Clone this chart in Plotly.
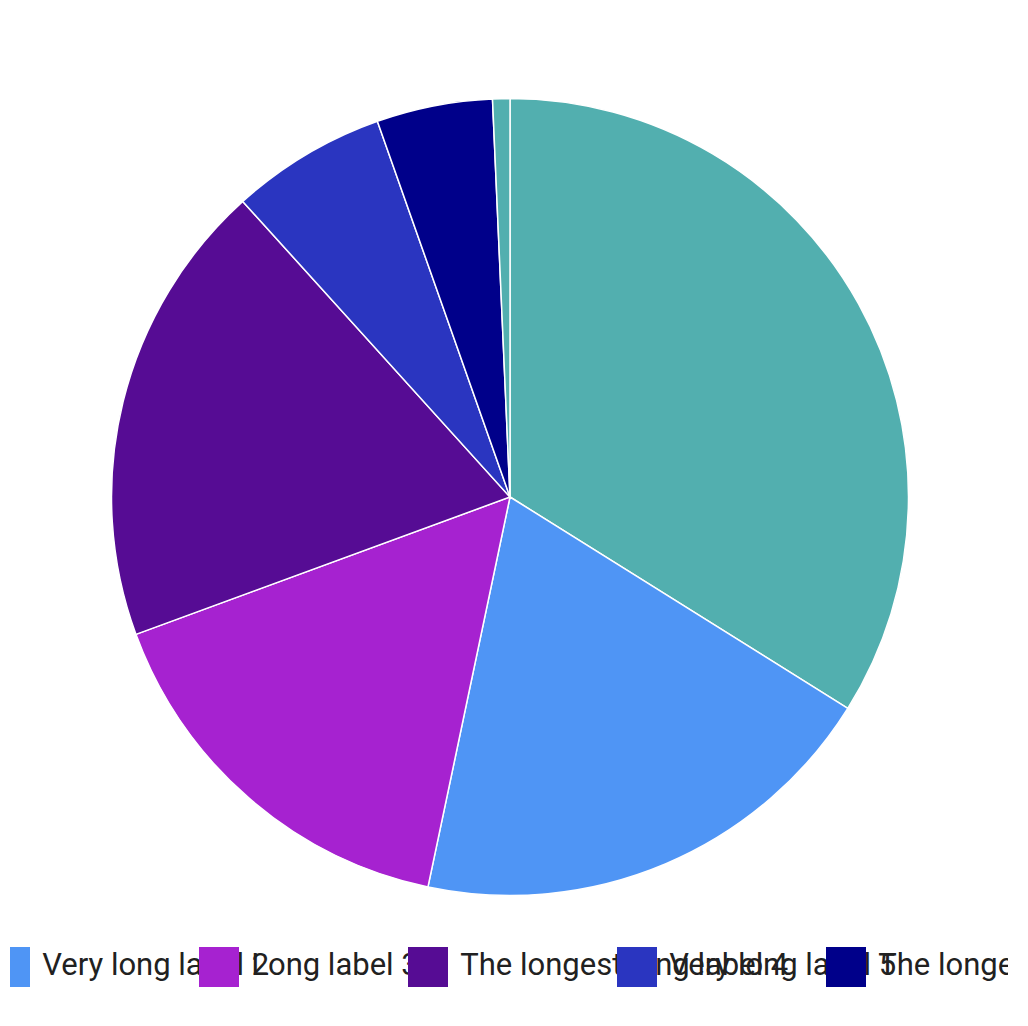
import plotly.graph_objects as go

labels = [
    "Label 1",
    "Very long label 2",
    "Long label 3",
    "The longest long label 4",
    "Very long label 5",
    "The longest long label 6",
    "Label 7",
]
values = [339, 194, 161, 189, 63, 47, 7]
colors = ["#52AFAF", "#4F95F5", "#A622D0", "#560C94", "#2A35C0", "#00008A", "#52AFAF"]

W, H = 1028, 1026

# pie geometry (px, figure coords; page has an 8px body margin)
cx, cy, r = 502, 489, 398.5

fig = go.Figure()

fig.add_trace(
    go.Pie(
        labels=labels,
        values=values,
        sort=False,
        direction="clockwise",
        rotation=0,
        textinfo="none",
        marker=dict(colors=colors, line=dict(color="white", width=1.5)),
        domain=dict(
            x=[(cx - r) / W, (cx + r) / W],
            y=[1 - (cy + r) / H, 1 - (cy - r) / H],
        ),
        showlegend=False,
    )
)

# legend row, drawn as a clipped strip (wider than the page)
slot = 209  # px per legend entry
left, right = 2, 1000
first_center = -207  # px, centre of the first swatch
span = (right - left) / slot
r0 = (left - first_center) / slot
legend_y = 959

# one swatch + one label per entry, so later entries sit on top of earlier text
for i, (lab, col) in enumerate(zip(labels, colors)):
    fig.add_trace(
        go.Scatter(
            x=[i],
            y=[0],
            mode="markers",
            marker=dict(symbol="square", size=40, color=col, line=dict(width=0)),
            hoverinfo="skip",
            showlegend=False,
            cliponaxis=True,
        )
    )
    # invisible bigger marker just sets the gap before the text
    fig.add_trace(
        go.Scatter(
            x=[i],
            y=[0],
            mode="markers+text",
            marker=dict(size=50, color="rgba(0,0,0,0)"),
            text=[lab],
            textposition="middle right",
            textfont=dict(family="Roboto", size=31, color="#212121"),
            hoverinfo="skip",
            showlegend=False,
            cliponaxis=True,
        )
    )

fig.update_layout(
    width=W,
    height=H,
    margin=dict(l=0, r=0, t=0, b=0),
    paper_bgcolor="white",
    plot_bgcolor="rgba(0,0,0,0)",
    font=dict(family="Roboto", size=31, color="#212121"),
    xaxis=dict(
        domain=[left / W, right / W],
        range=[r0, r0 + span],
        visible=False,
        fixedrange=True,
    ),
    yaxis=dict(
        domain=[1 - (legend_y + 40) / H, 1 - (legend_y - 40) / H],
        range=[-1, 1],
        visible=False,
        fixedrange=True,
    ),
)

fig.write_html("out.html")
